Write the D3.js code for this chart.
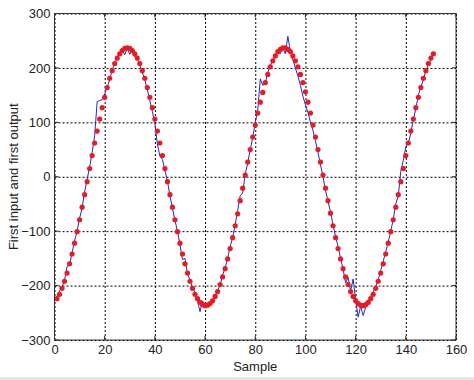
<!DOCTYPE html>
<html>
<head>
<meta charset="utf-8">
<script src="https://cdn.jsdelivr.net/npm/d3@7"></script>
<style>
  body { margin: 0; background: #fff; }
  svg { display: block; font-family: "Liberation Sans", Arial, sans-serif; }
</style>
</head>
<body>
<svg id="chart" width="474" height="380"></svg>
<script>
// sample index 1..151
const samples = d3.range(1, 152);

// first output (red dots)
const outputValues = [
  -224,-216,-205,-192,-177,-160,-142,-122,-101,-79,
  -56,-33,-9,15,39,62,84,106,127,146,
  164,181,195,208,218,226,232,236,237,236,
  232,226,218,208,195,181,164,146,127,106,
  84,62,39,15,-9,-33,-56,-79,-101,-122,
  -142,-160,-177,-192,-205,-216,-224,-231,-235,-237,
  -236,-233,-228,-220,-211,-198,-184,-169,-151,-132,
  -112,-90,-68,-44,-21,3,27,50,73,95,
  117,137,155,173,188,202,213,222,230,234,
  237,237,234,230,222,213,202,188,173,156,
  137,117,95,73,50,27,3,-21,-44,-67,
  -90,-112,-132,-151,-169,-184,-198,-211,-220,-228,
  -233,-236,-237,-235,-231,-224,-216,-205,-192,-177,
  -160,-142,-122,-101,-79,-56,-33,-9,15,39,
  62,84,106,127,146,164,181,195,208,218,226
];

// first input (blue line)
const inputValues = [
  -222,-210,-203,-190,-165,-162,-140,-118,-100,-76,
  -58,-28,-5,18,45,75,138,140,142,152,
  165,178,198,206,220,228,232,224,236,225,
  234,220,216,205,192,178,160,140,120,98,
  60,38,32,12,-8,-35,-58,-80,-100,-125,
  -152,-150,-178,-190,-205,-212,-228,-248,-228,-238,
  -232,-236,-228,-222,-208,-200,-180,-168,-150,-128,
  -112,-88,-62,-35,-30,5,25,50,72,100,
  122,180,168,172,192,204,214,222,228,226,
  236,226,258,230,215,200,185,168,148,132,
  118,100,85,66,45,22,0,-25,-45,-65,
  -88,-110,-128,-150,-170,-195,-185,-210,-188,-225,
  -258,-238,-255,-240,-232,-220,-212,-202,-190,-172,
  -155,-138,-120,-100,-78,-50,-35,10,30,55,
  62,80,105,125,150,165,178,196,205,216,226
];

const xTicks = [0, 20, 40, 60, 80, 100, 120, 140, 160];
const yTicks = [-300, -200, -100, 0, 100, 200, 300];

const margin = {left: 54.5, right: 18, top: 13.5, bottom: 40};
const width = 474;
const height = 380;

const svg = d3.select('#chart');

const xScale = d3.scaleLinear()
    .domain([0, 160])
    .range([margin.left, width - margin.right]);

const yScale = d3.scaleLinear()
    .domain([-300, 300])
    .range([height - margin.bottom, margin.top]);

const innerW = xScale(160) - xScale(0);
const innerH = yScale(-300) - yScale(300);

// light strip along the bottom edge
svg.append('rect')
    .attr('x', 0).attr('y', 377)
    .attr('width', width).attr('height', 3)
    .style('fill', '#e6e6e6');

// dotted grid
const gx = svg.append('g')
    .attr('transform', `translate(0, ${yScale(-300)})`)
    .call(d3.axisBottom(xScale).tickValues(xTicks).tickSize(-innerH).tickPadding(5));
const gy = svg.append('g')
    .attr('transform', `translate(${xScale(0)}, 0)`)
    .call(d3.axisLeft(yScale).tickValues(yTicks).tickSize(-innerW).tickPadding(4));

[gx, gy].forEach(g => {
    g.select('.domain').remove();
    g.selectAll('line')
        .style('stroke', '#000')
        .style('stroke-width', 1)
        .style('stroke-dasharray', '2,2');
    g.selectAll('text')
        .style('font-size', '13px')
        .style('fill', '#222');
});

// inner tick marks on all four sides
const tickLen = 4;
svg.append('g').selectAll('line')
    .data(xTicks)
    .join('line')
    .attr('x1', d => xScale(d)).attr('x2', d => xScale(d))
    .attr('y1', yScale(-300)).attr('y2', yScale(-300) - tickLen)
    .style('stroke', '#222');
svg.append('g').selectAll('line')
    .data(xTicks)
    .join('line')
    .attr('x1', d => xScale(d)).attr('x2', d => xScale(d))
    .attr('y1', yScale(300)).attr('y2', yScale(300) + tickLen)
    .style('stroke', '#222');
svg.append('g').selectAll('line')
    .data(yTicks)
    .join('line')
    .attr('x1', xScale(0)).attr('x2', xScale(0) + tickLen)
    .attr('y1', d => yScale(d)).attr('y2', d => yScale(d))
    .style('stroke', '#222');
svg.append('g').selectAll('line')
    .data(yTicks)
    .join('line')
    .attr('x1', xScale(160)).attr('x2', xScale(160) - tickLen)
    .attr('y1', d => yScale(d)).attr('y2', d => yScale(d))
    .style('stroke', '#222');

// blue input line
const line = d3.line()
    .x((d, i) => xScale(samples[i]))
    .y(d => yScale(d));

svg.append('path')
    .datum(inputValues)
    .attr('d', line)
    .style('fill', 'none')
    .style('stroke', '#1a2bd6')
    .style('stroke-width', 1);

// red output dots
svg.append('g').selectAll('circle')
    .data(outputValues)
    .join('circle')
    .attr('cx', (d, i) => xScale(samples[i]))
    .attr('cy', d => yScale(d))
    .attr('r', 2.6)
    .style('fill', '#ea1a1f');

// axes box
svg.append('rect')
    .attr('x', xScale(0))
    .attr('y', yScale(300))
    .attr('width', innerW)
    .attr('height', innerH)
    .style('fill', 'none')
    .style('stroke', '#333')
    .style('stroke-width', 1);

// axis titles
svg.append('text')
    .attr('x', (xScale(0) + xScale(160)) / 2)
    .attr('y', 371)
    .attr('text-anchor', 'middle')
    .style('font-size', '13px')
    .style('fill', '#222')
    .text('Sample');

svg.append('text')
    .attr('transform', `translate(18, ${(yScale(300) + yScale(-300)) / 2}) rotate(-90)`)
    .attr('text-anchor', 'middle')
    .style('font-size', '13px')
    .style('fill', '#222')
    .text('First input and first output');
</script>
</body>
</html>
